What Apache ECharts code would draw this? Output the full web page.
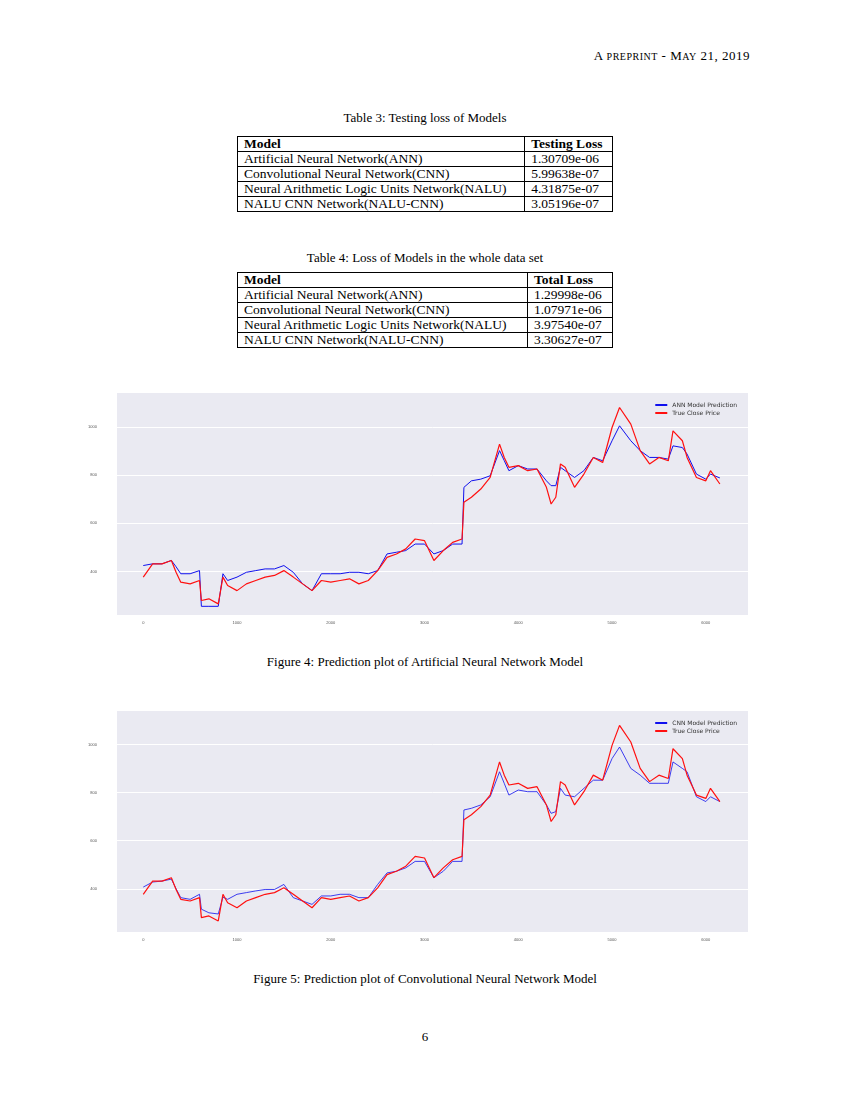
<!DOCTYPE html>
<html><head><meta charset="utf-8">
<script src="https://cdn.jsdelivr.net/npm/echarts@6/dist/echarts.min.js"></script>
<style>
body{margin:0;background:#fff;font-family:"Liberation Serif",serif;color:#000}
#page{position:relative;width:850px;height:1100px}
.t{position:absolute;font-size:13px}
table{position:absolute;border-collapse:collapse;font-size:13.5px;line-height:14px}
td{border:1px solid #000;padding:0 6px 0 6px}
</style></head><body><div id="page">
<div class="t" style="right:100px;top:48px;font-size:13px;letter-spacing:0.5px">A <span style="font-size:10px">PREPRINT</span> - M<span style="font-size:10px">AY</span> 21, 2019</div>
<div class="t" style="left:0;width:850px;text-align:center;top:110px">Table 3: Testing loss of Models</div>
<table style="left:237px;top:136px;width:376px">
<tr><td><b>Model</b></td><td><b>Testing Loss</b></td></tr>
<tr><td>Artificial Neural Network(ANN)</td><td>1.30709e-06</td></tr>
<tr><td>Convolutional Neural Network(CNN)</td><td>5.99638e-07</td></tr>
<tr><td>Neural Arithmetic Logic Units Network(NALU)</td><td>4.31875e-07</td></tr>
<tr><td>NALU CNN Network(NALU-CNN)</td><td>3.05196e-07</td></tr>
</table>
<div class="t" style="left:0;width:850px;text-align:center;top:250px">Table 4: Loss of Models in the whole data set</div>
<table style="left:237px;top:272px;width:376px">
<tr><td><b>Model</b></td><td><b>Total Loss</b></td></tr>
<tr><td>Artificial Neural Network(ANN)</td><td>1.29998e-06</td></tr>
<tr><td>Convolutional Neural Network(CNN)</td><td>1.07971e-06</td></tr>
<tr><td>Neural Arithmetic Logic Units Network(NALU)</td><td>3.97540e-07</td></tr>
<tr><td>NALU CNN Network(NALU-CNN)</td><td>3.30627e-07</td></tr>
</table>
<div id="c1" style="position:absolute;left:0;top:380px;width:850px;height:260px"></div>
<div class="t" style="left:0;width:850px;text-align:center;top:654px">Figure 4: Prediction plot of Artificial Neural Network Model</div>
<div id="c2" style="position:absolute;left:0;top:700px;width:850px;height:260px"></div>
<div class="t" style="left:0;width:850px;text-align:center;top:971px">Figure 5: Prediction plot of Convolutional Neural Network Model</div>
<div class="t" style="left:0;width:850px;text-align:center;top:1029px">6</div>
</div>
<script>
var steps = [0,100,200,300,350,400,500,600,620,700,800,850,900,1000,1100,1200,1300,1400,1500,1600,1700,1800,1900,2000,2100,2200,2300,2400,2500,2600,2700,2800,2900,3000,3100,3200,3300,3400,3420,3500,3600,3700,3800,3850,3900,4000,4100,4200,4300,4350,4400,4450,4500,4600,4700,4800,4900,5000,5080,5200,5300,5400,5500,5600,5650,5750,5800,5900,6000,6050,6150];
var trueClose = [377,432,432,446,397,356,349,363,280,287,266,377,342,321,349,363,377,384,404,377,349,321,363,356,363,370,349,363,404,459,473,494,535,528,446,487,521,535,687,708,742,790,928,873,832,839,818,825,749,680,708,846,832,749,804,873,852,997,1080,1011,901,846,873,859,983,942,873,790,776,818,763];
var annPred = [425,432,432,446,420,391,391,404,256,256,256,391,363,377,397,404,411,411,425,397,349,321,391,391,391,397,397,391,404,473,480,487,514,514,473,487,514,514,749,776,783,797,901,860,818,839,825,825,776,756,756,832,818,790,818,873,859,942,1004,942,901,873,873,866,921,914,887,804,783,804,788];
var cnnPred = [407,428,432,440,400,363,356,377,315,300,295,365,356,377,384,391,397,397,418,363,349,335,370,370,377,377,363,363,418,466,473,487,514,514,446,473,514,514,728,735,749,783,887,839,790,811,804,804,749,714,721,818,790,783,818,852,852,942,990,901,873,839,839,839,928,901,887,783,763,783,763];
var yTicks = [400,600,800,1000];
var xTicks = [0,1000,2000,3000,4000,5000,6000];

function pairs(v){ return steps.map(function(s,i){ return [s, v[i]]; }); }

function drawChart(id, top, bottom, predName, pred, predWidth){
  var myChart = echarts.init(document.getElementById(id));
  var option = {
    animation:false,
    grid:{left:117,right:102,top:top,bottom:bottom,backgroundColor:'#eaeaf2',show:true,borderWidth:0},
    legend:{right:108,top:top+4,orient:'vertical',itemGap:2,itemWidth:12,itemHeight:2,
      textStyle:{fontSize:6,color:'#333',fontFamily:'DejaVu Sans'},
      data:[{name:predName,icon:'rect'},{name:'True Close Price',icon:'rect'}]},
    xAxis:{type:'value',min:-280,max:6450,
      axisLine:{show:false},axisTick:{show:false},splitLine:{show:false},
      axisLabel:{customValues:xTicks,fontSize:4,color:'#555',margin:6,formatter:function(v){return String(v);}}},
    yAxis:{type:'value',min:220,max:1140,
      axisLine:{show:false},axisTick:{show:false,customValues:yTicks},
      splitLine:{show:true,lineStyle:{color:'#fff',width:1}},
      axisLabel:{customValues:yTicks,fontSize:4,color:'#555',margin:20,formatter:function(v){return String(v);}}},
    series:[
      {name:predName,type:'line',data:pairs(pred),symbol:'none',lineStyle:{color:'#1010ee',width:predWidth},itemStyle:{color:'#1010ee'}},
      {name:'True Close Price',type:'line',data:pairs(trueClose),symbol:'none',lineStyle:{color:'#ff1010',width:1.2},itemStyle:{color:'#ff1010'}}
    ]
  };
  myChart.setOption(option);
}
drawChart('c1', 13, 25, 'ANN Model Prediction', annPred, 1);
drawChart('c2', 11, 28, 'CNN Model Prediction', cnnPred, 0.8);
</script>
</body></html>
